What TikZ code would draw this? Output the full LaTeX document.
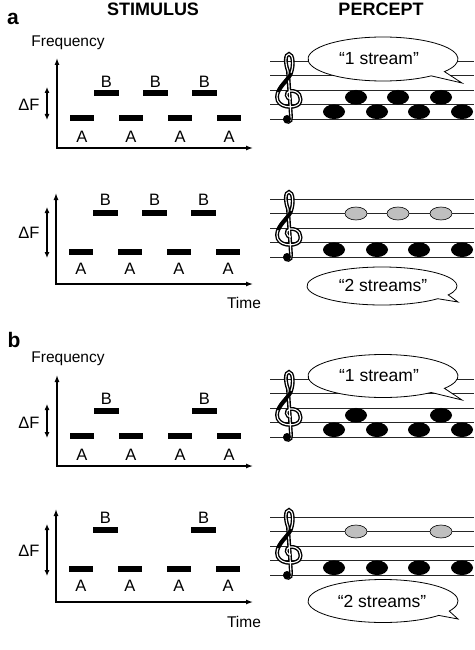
\documentclass[tikz,border=0pt]{standalone}
\usepackage{fontspec}
\setmainfont{Liberation Sans}
\usetikzlibrary{arrows.meta}
\tikzset{
  axis/.style={line width=1.3pt, {Latex[length=7pt,width=5pt]}-{Latex[length=7pt,width=5pt]}},
  dfarrow/.style={line width=1.1pt, {Latex[length=6pt,width=5pt]}-{Latex[length=6pt,width=5pt]}},
  tone/.style={line width=5.5pt},
  lbl/.style={font=\fontsize{15.5}{18}\selectfont, inner sep=0pt},
  ab/.style={font=\fontsize{16.5}{18}\selectfont, inner sep=0pt},
  head/.style={font=\bfseries\fontsize{18}{20}\selectfont, inner sep=0pt},
  panel/.style={font=\bfseries\fontsize{21}{22}\selectfont, inner sep=0pt},
  staffline/.style={line width=0.8pt, black!85},
  blacknote/.style={fill=black},
  greynote/.style={fill=black!25, draw=black, line width=0.6pt},
  bubble/.style={draw=black, fill=white, line width=0.8pt},
  btext/.style={font=\fontsize{17.5}{20}\selectfont, inner sep=0pt},
  clefline/.style={draw=black, line width=1.4pt, double=white, double distance=1.1pt},
  gclef/.pic={
    \draw[clefline] (1,38) .. controls (-4,38) and (-5,31) .. (0,30)
      .. controls (9,29) and (13,37) .. (9,43)
      .. controls (4,48) and (-13,47) .. (-13,36)
      .. controls (-13,27) and (-2,20) .. (1,12)
      .. controls (4,4) and (3,-7) .. (-1,-7)
      .. controls (-5,-7) and (-5,2) .. (-2,10)
      -- (1,56) .. controls (2,62) and (-5,62) .. (-5,58);
    \draw[line width=3.6pt] (1,12) .. controls (-1,18) and (-9,23) .. (-12,31);
    \fill (-3,58) circle[radius=4];
  },
  staff/.pic={
    \foreach \k in {0,1,2,3,4} {\draw[staffline] (270,\k*14.5) -- (474,\k*14.5);}
    \pic at (290,0) {gclef};
  }
}
\begin{document}
\begin{tikzpicture}[x=1pt,y=-1pt]
\useasboundingbox (0,0) rectangle (474,650);
\fill[white] (0,0) rectangle (474,650);

% headings
\node[head] (stim) at (153,9) {STIMULUS};
\node[head] (perc) at (381,9) {PERCEPT};
\node[panel] (pa) at (13,19) {a};
\node[panel] (pb) at (14,340) {b};

% ---------- panel a, top ----------
\node[lbl] (fa) at (68,43) {Frequency};
\coordinate (a1y) at (57,58); \coordinate (a1o) at (57,148); \coordinate (a1x) at (253,148);
\draw[axis] (a1y) -- (a1o) -- (a1x);
\coordinate (a1d1) at (47,87); \coordinate (a1d2) at (47,120);
\draw[dfarrow] (a1d1) -- (a1d2);
\node[ab] (a1df) at (29,105) {ΔF};
\foreach \x [count=\i] in {70,119,168,217} {
  \draw[tone] (\x,118) -- ++(24,0);
  \node[ab] (a1A\i) at (\x+12,137) {A};
}
\foreach \x [count=\i] in {94,143,192} {
  \draw[tone] (\x,93) -- ++(25,0);
  \node[ab] (a1B\i) at (\x+12.5,82) {B};
}

% ---------- panel a, bottom ----------
\coordinate (a2y) at (56,193); \coordinate (a2o) at (56,284); \coordinate (a2x) at (253,284);
\draw[axis] (a2y) -- (a2o) -- (a2x);
\coordinate (a2d1) at (47,207); \coordinate (a2d2) at (47,258);
\draw[dfarrow] (a2d1) -- (a2d2);
\node[ab] (a2df) at (29,233) {ΔF};
\foreach \x [count=\i] in {69,118,167,216} {
  \draw[tone] (\x,252) -- ++(24,0);
  \node[ab] (a2A\i) at (\x+12,269) {A};
}
\foreach \x [count=\i] in {93,142,191} {
  \draw[tone] (\x,213) -- ++(25,0);
  \node[ab] (a2B\i) at (\x+12.5,200) {B};
}
\node[lbl] (ta) at (244,303) {Time};

% ---------- panel b, top ----------
\node[lbl] (fb) at (68,359) {Frequency};
\coordinate (b1y) at (57,375); \coordinate (b1o) at (57,466); \coordinate (b1x) at (253,466);
\draw[axis] (b1y) -- (b1o) -- (b1x);
\coordinate (b1d1) at (47,404); \coordinate (b1d2) at (47,438);
\draw[dfarrow] (b1d1) -- (b1d2);
\node[ab] (b1df) at (29,423) {ΔF};
\foreach \x [count=\i] in {70,119,168,217} {
  \draw[tone] (\x,436) -- ++(24,0);
  \node[ab] (b1A\i) at (\x+12,455) {A};
}
\foreach \x [count=\i] in {94,192} {
  \draw[tone] (\x,411) -- ++(25,0);
  \node[ab] (b1B\i) at (\x+12.5,399) {B};
}

% ---------- panel b, bottom ----------
\coordinate (b2y) at (56,509); \coordinate (b2o) at (56,602); \coordinate (b2x) at (253,602);
\draw[axis] (b2y) -- (b2o) -- (b2x);
\coordinate (b2d1) at (47,524); \coordinate (b2d2) at (47,576);
\draw[dfarrow] (b2d1) -- (b2d2);
\node[ab] (b2df) at (29,551) {ΔF};
\foreach \x [count=\i] in {69,118,167,216} {
  \draw[tone] (\x,569) -- ++(24,0);
  \node[ab] (b2A\i) at (\x+12,586) {A};
}
\foreach \x [count=\i] in {93,191} {
  \draw[tone] (\x,530) -- ++(25,0);
  \node[ab] (b2B\i) at (\x+12.5,518) {B};
}
\node[lbl] (tb) at (244,622) {Time};

% ---------- percepts ----------
% a top: 1 stream
\pic at (0,61) {staff};
\foreach \x in {334,377,419,462} {\fill[blacknote] (\x,61+50.75) ellipse[x radius=11, y radius=7.3];}
\foreach \x in {356,398,441} {\fill[blacknote] (\x,61+36.25) ellipse[x radius=11, y radius=7.3];}
\coordinate (s1tip) at (462,83);
\draw[bubble] (383,59) ++(50:75 and 22) arc[start angle=50, end angle=395, x radius=75, y radius=22] -- (s1tip) -- cycle;
\node[btext] (s1) at (379,59) {“1 stream”};

% a bottom: 2 streams
\pic at (0,199) {staff};
\foreach \x in {334,377,419,462} {\fill[blacknote] (\x,199+50.75) ellipse[x radius=11, y radius=7.3];}
\foreach \x in {356,398,441} {\draw[greynote] (\x,199+14.5) ellipse[x radius=11, y radius=6.5];}
\coordinate (s2tip) at (458,302);
\draw[bubble] (382,286) ++(42:75 and 19) arc[start angle=42, end angle=388, x radius=75, y radius=19] -- (s2tip) -- cycle;
\node[btext] (s2) at (383,285) {“2 streams”};

% b top: 1 stream
\pic at (0,379) {staff};
\foreach \x in {334,377,419,462} {\fill[blacknote] (\x,379+50.75) ellipse[x radius=11, y radius=7.3];}
\foreach \x in {356,441} {\fill[blacknote] (\x,379+36.25) ellipse[x radius=11, y radius=7.3];}
\coordinate (s3tip) at (462,400);
\draw[bubble] (383,376) ++(50:75 and 21.5) arc[start angle=50, end angle=395, x radius=75, y radius=21.5] -- (s3tip) -- cycle;
\node[btext] (s3) at (379,376) {“1 stream”};

% b bottom: 2 streams
\pic at (0,517) {staff};
\foreach \x in {334,377,419,462} {\fill[blacknote] (\x,517+50.75) ellipse[x radius=11, y radius=7.3];}
\foreach \x in {356,441} {\draw[greynote] (\x,517+14.5) ellipse[x radius=11, y radius=6.5];}
\coordinate (s4tip) at (458,619);
\draw[bubble] (383,601) ++(42:75 and 21.5) arc[start angle=42, end angle=388, x radius=75, y radius=21.5] -- (s4tip) -- cycle;
\node[btext] (s4) at (382,601) {“2 streams”};
\end{tikzpicture}
\end{document}
